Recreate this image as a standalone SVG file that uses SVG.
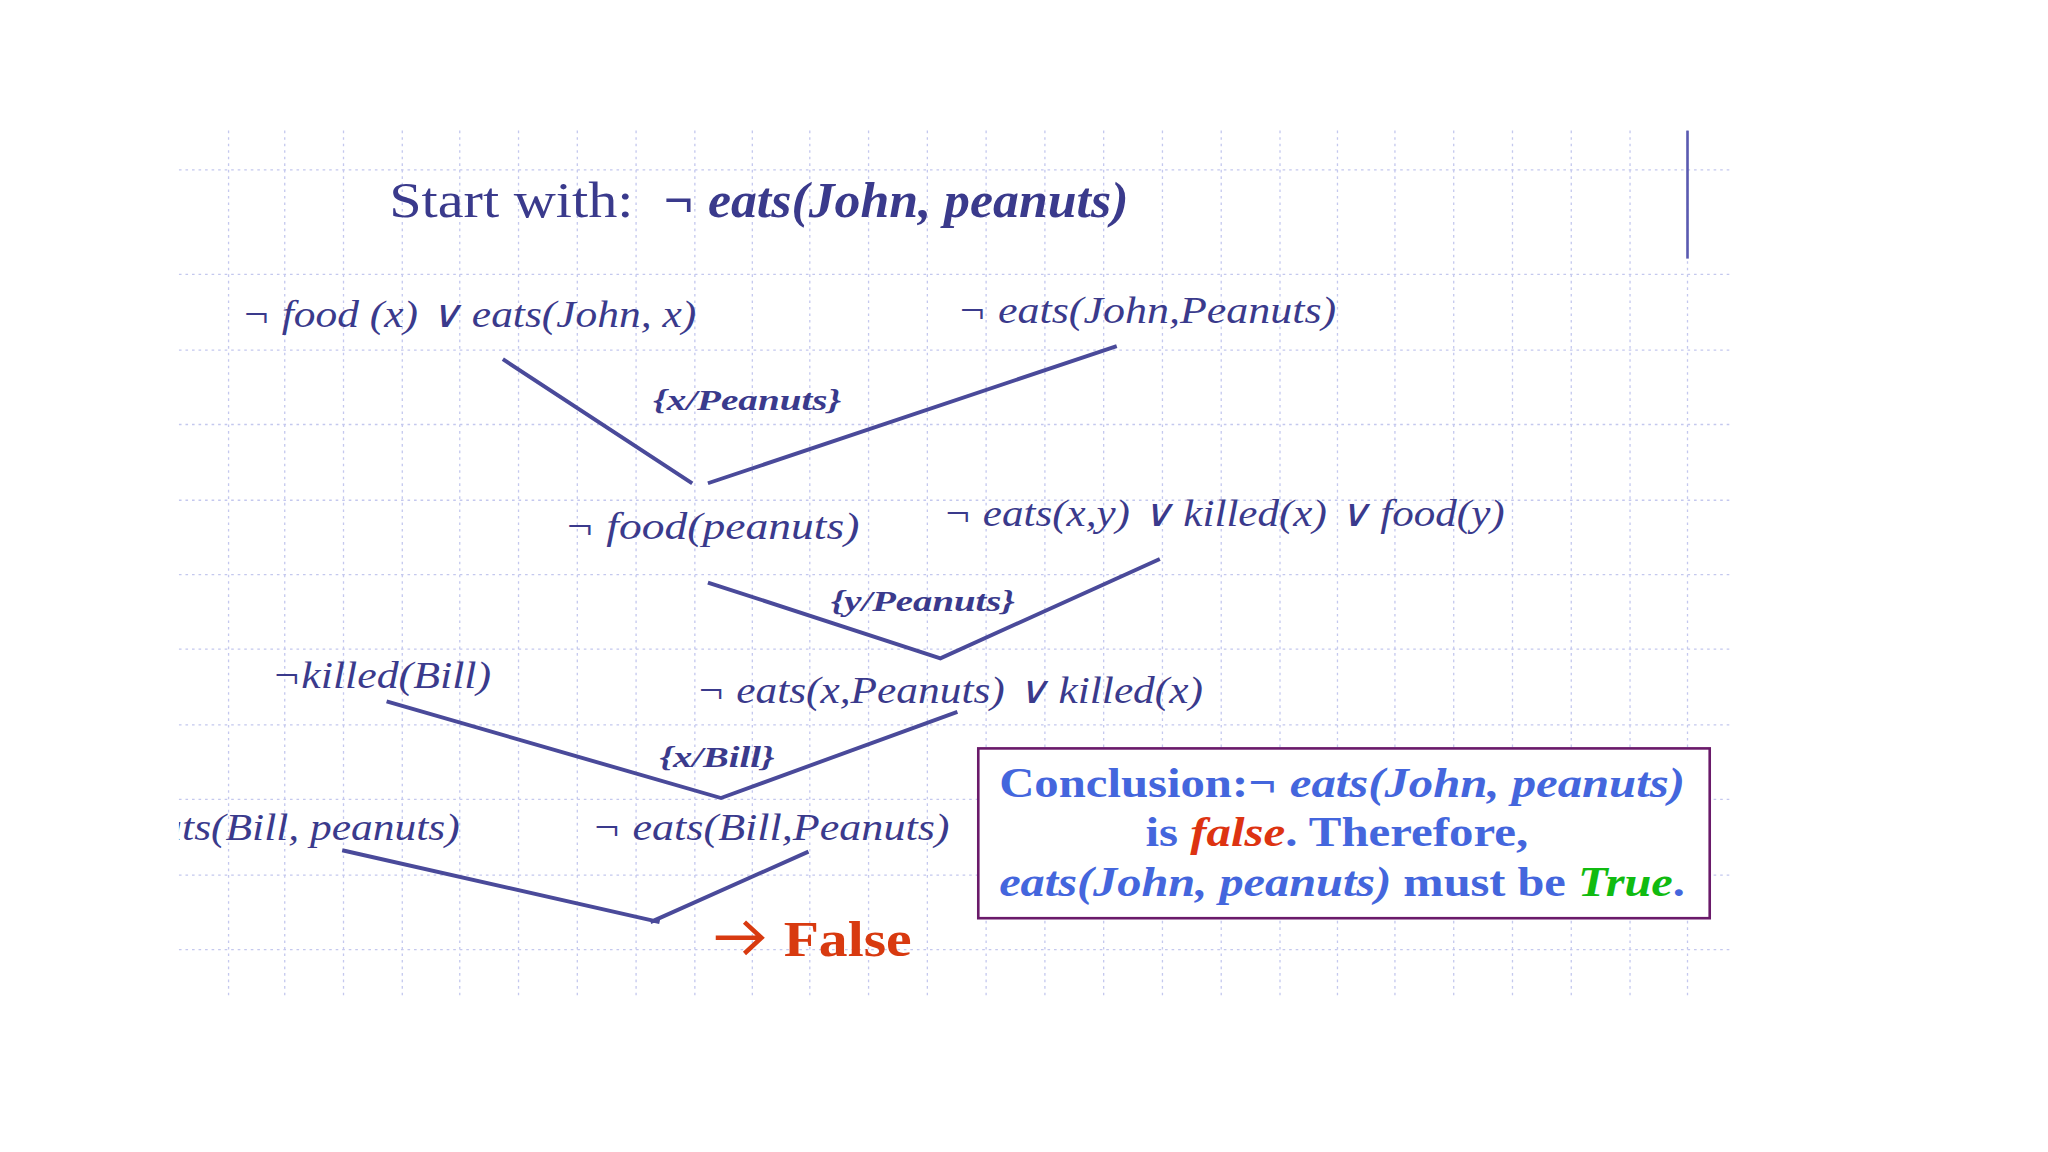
<svg xmlns="http://www.w3.org/2000/svg" width="2048" height="1152" viewBox="0 0 2048 1152">
<defs>
<style>
.t{font-family:"Liberation Serif",serif;fill:#3a3a8c;font-style:italic;font-size:29px}
.s{font-family:"Liberation Serif",serif;fill:#3a3a8c;font-weight:bold;font-style:italic;font-size:23px}
.g{stroke:#c4c8ee;stroke-width:1;stroke-dasharray:2 3}
.e{stroke:#4a4a9a;stroke-width:3;fill:none}
.c{font-family:"Liberation Serif",serif;font-weight:bold;font-size:32px;fill:#4466dd}
</style>
<clipPath id="cl"><rect x="137" y="600" width="400" height="60"/></clipPath>
</defs>
<rect width="2048" height="1152" fill="#fff"/>
<g transform="scale(1.30612)">
<g id="grid">
<path class="g" d="M137 130H1325M137 210H1325M137 268H1325M137 325H1325M137 383H1325M137 440H1325M137 497H1325M137 555H1325M137 612H1325M137 670H1325M137 727H1325"/>
<path class="g" d="M175 100V765M218 100V765M263 100V765M308 100V765M352 100V765M397 100V765M442 100V765M487 100V765M532 100V765M576 100V765M620 100V765M665 100V765M710 100V765M755 100V765M800 100V765M845 100V765M890 100V765M935 100V765M980 100V765M1024 100V765M1068 100V765M1113 100V765M1158 100V765M1203 100V765M1248 100V765M1292 100V765"/>
</g>
<line x1="1292" y1="100" x2="1292" y2="198" stroke="#5a5ab0" stroke-width="2"/>
<g id="title">
<text x="298" y="166" font-family="Liberation Serif,serif" font-size="38" fill="#3a3a8c" textLength="187" lengthAdjust="spacingAndGlyphs">Start with:</text>
<text x="508" y="166" font-family="Liberation Serif,serif" font-size="38" fill="#3a3a8c" font-weight="bold" font-style="italic" textLength="356" lengthAdjust="spacingAndGlyphs">¬ eats(John, peanuts)</text>
</g>
<g id="connectors">
<path class="e" d="M385 275L530 370M542 370L855 265M542 446L720 504L888 428M296 537L552 611L733 545M262 651L505 706M498 706L619 652"/>
</g>
<g id="n1"><text class="t" x="185" y="250" textLength="348" lengthAdjust="spacingAndGlyphs">¬ food (x) ∨ eats(John, x)</text></g>
<g id="n2"><text class="t" x="733" y="247" textLength="290" lengthAdjust="spacingAndGlyphs">¬ eats(John,Peanuts)</text></g>
<g id="l1"><text class="s" x="500" y="314" textLength="144" lengthAdjust="spacingAndGlyphs">{x/Peanuts}</text></g>
<g id="n3"><text class="t" x="432" y="413" textLength="226" lengthAdjust="spacingAndGlyphs">¬  food(peanuts)</text></g>
<g id="n4"><text class="t" x="722" y="403" textLength="430" lengthAdjust="spacingAndGlyphs">¬ eats(x,y) ∨ killed(x) ∨ food(y)</text></g>
<g id="l2"><text class="s" x="636" y="468" textLength="141" lengthAdjust="spacingAndGlyphs">{y/Peanuts}</text></g>
<g id="n5"><text class="t" x="208" y="527" textLength="168" lengthAdjust="spacingAndGlyphs">¬killed(Bill)</text></g>
<g id="n6"><text class="t" x="533" y="538" textLength="388" lengthAdjust="spacingAndGlyphs">¬ eats(x,Peanuts) ∨ killed(x)</text></g>
<g id="l3"><text class="s" x="505" y="587" textLength="88" lengthAdjust="spacingAndGlyphs">{x/Bill}</text></g>
<g id="n7" clip-path="url(#cl)"><text class="t" x="108" y="643" textLength="244" lengthAdjust="spacingAndGlyphs">eats(Bill, peanuts)</text></g>
<g id="n8"><text class="t" x="453" y="643" textLength="274" lengthAdjust="spacingAndGlyphs">¬ eats(Bill,Peanuts)</text></g>
<g id="false">
<path d="M548 718H582M570 706L583 718L570 730" stroke="#d83a10" stroke-width="3.5" fill="none"/>
<text x="600" y="732" font-family="Liberation Serif,serif" font-weight="bold" font-size="38" fill="#d83a10" textLength="98" lengthAdjust="spacingAndGlyphs">False</text>
</g>
<g id="conclusion">
<rect x="749" y="573" width="560" height="130" fill="#fff" stroke="#6a1a6a" stroke-width="2"/>
<text class="c" x="765" y="610" textLength="525" lengthAdjust="spacingAndGlyphs">Conclusion:<tspan font-style="italic">¬ eats(John, peanuts)</tspan></text>
<text class="c" x="877" y="648" textLength="293" lengthAdjust="spacingAndGlyphs">is <tspan font-style="italic" fill="#dd3311">false</tspan>. Therefore,</text>
<text class="c" x="765" y="686" textLength="525" lengthAdjust="spacingAndGlyphs"><tspan font-style="italic">eats(John, peanuts)</tspan> must be <tspan font-style="italic" fill="#11bb11">True</tspan>.</text>
</g>
</g>
</svg>
